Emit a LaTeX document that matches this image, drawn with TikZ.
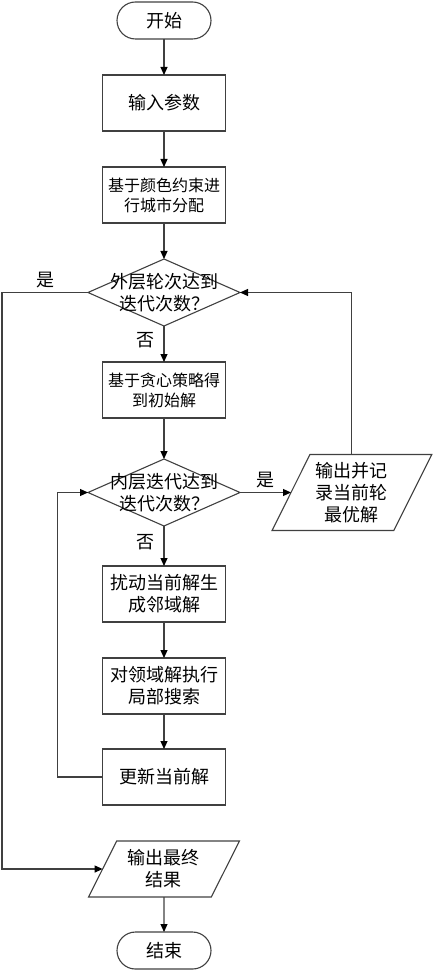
\documentclass[tikz,border=0pt]{standalone}
\usepackage{fontspec}
\setmainfont{Noto Sans CJK SC}
\usetikzlibrary{arrows.meta,positioning,shapes.geometric}

\begin{document}
\begin{tikzpicture}[
    x=1pt, y=1pt,
    font=\fontsize{18}{22}\selectfont,
    node distance=36pt,
    base/.style={draw=black!75, line width=1.1pt, align=center, inner sep=2pt, outer sep=0pt},
    terminal/.style={base, rounded corners=18.5pt, minimum width=94pt, minimum height=37pt},
    process/.style={base, minimum width=123pt, minimum height=56pt},
    small/.style={font=\fontsize{16}{20}\selectfont},
    decision/.style={base, diamond, inner sep=0pt, minimum width=152pt, minimum height=67pt},
    io/.style={base, trapezium, trapezium left angle=62, trapezium right angle=118,
      trapezium stretches=true},
    arrow/.style={-{Triangle[length=8pt,width=7pt,color=black]}, line width=1.1pt, draw=black!75}
  ]
    \useasboundingbox (0,0) rectangle (434,-973);

    \node[terminal] (start) at (164,-20.5) {开始};
    \node[process, below=of start] (input) {输入参数};
    \node[process, small, below=of input] (assign) {基于颜色约束进\\行城市分配};
    \node[decision, below=of assign,
      label={[align=center]center:外层轮次达到\\迭代次数？}] (outer) {};
    \node[process, small, below=of outer] (greedy) {基于贪心策略得\\到初始解};
    \node[decision, below=41pt of greedy,
      label={[align=center]center:内层迭代达到\\迭代次数？}] (inner) {};
    \node[io, minimum width=160pt, minimum height=76pt, right=51pt of inner] (record) {输出并记\\录当前轮\\最优解};
    \node[process, below=40pt of inner] (perturb) {扰动当前解生\\成邻域解};
    \node[process, below=of perturb] (search) {对领域解执行\\局部搜索};
    \node[process, below=35pt of search] (update) {更新当前解};
    \node[io, minimum width=151pt, minimum height=56pt, below=of update] (result) {输出最终\\结果};
    \node[terminal, below=35pt of result] (stop) {结束};

    \draw[arrow] (start) -- (input);
    \draw[arrow] (input) -- (assign);
    \draw[arrow] (assign) -- (outer);
    \draw[arrow] (outer) -- node[left=6pt, pos=0.4] {否} (greedy);
    \draw[arrow] (greedy) -- (inner);
    \draw[arrow] (inner) -- node[left=6pt, pos=0.4] {否} (perturb);
    \draw[arrow] (perturb) -- (search);
    \draw[arrow] (search) -- (update);
    \draw[arrow] (result) -- (stop);
    \draw[arrow] (inner.east) -- node[above=1pt] {是} (record.west);
    \draw[arrow] (record.north) |- (outer.east);
    \draw[arrow] (update.west) -- ++(-45,0) |- (inner.west);
    \draw[arrow] (outer.west) -- node[above=1pt] {是} ++(-86,0) |- (result.west);
  \end{tikzpicture}
\end{document}
